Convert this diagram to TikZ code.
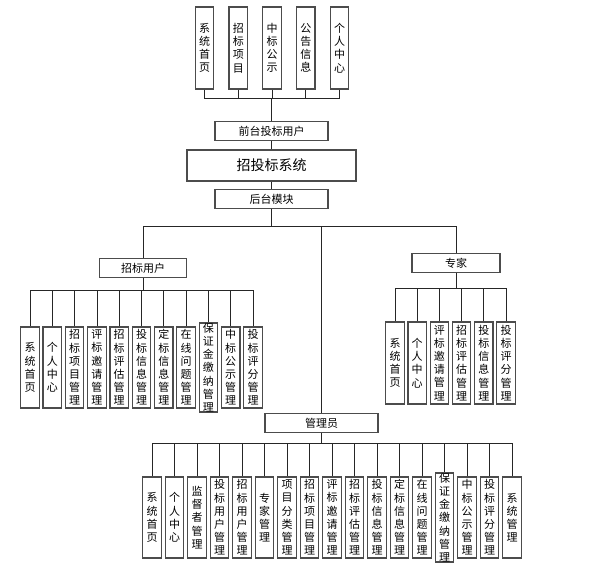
\documentclass[tikz,border=0pt]{standalone}
\usepackage{fontspec}
\newfontfamily\cjk{Noto Sans CJK SC}
\usetikzlibrary{positioning}
\tikzset{
  vbox/.style={
    draw=black!70,
    line width=1.2pt,
    fill=white,
    minimum width=18.5,
    inner sep=0pt,
    align=center,
    font=\cjk\fontsize{11}{13.2}\selectfont
  },
  hbox/.style={
    draw=black!70,
    line width=1.2pt,
    fill=white,
    minimum height=19.5,
    inner sep=0pt,
    font=\cjk\fontsize{11}{13.2}\selectfont
  },
  link/.style={draw=black!85, line width=0.8pt}
}

\begin{document}
\begin{tikzpicture}[x=1pt,y=-1pt]
  \useasboundingbox (0,0) rectangle (603,570);

  % front end pages
  \foreach \lbl [count=\i] in {{系\\统\\首\\页},{招\\标\\项\\目},{中\\标\\公\\示},{公\\告\\信\\息},{个\\人\\中\\心}}
    \node[vbox, minimum height=82] (t\i) at ({204.5+33.75*(\i-1)},48) {\lbl};
  \coordinate (tbus) at (271.5,98);
  \foreach \i in {1,...,5}
    \draw[link] (t\i.south) |- (tbus);

  % system core
  \node[hbox, minimum width=113] (front) at (271.5,131) {前台投标用户};
  \node[hbox, minimum width=169, minimum height=31,
        font=\cjk\fontsize{14}{16}\selectfont] (sys) at (271.5,165.5) {招投标系统};
  \node[hbox, minimum width=113, minimum height=19] (back) at (271.5,199) {后台模块};
  \draw[link] (tbus) -- (front.north);
  \draw[link] (front.south) -- (sys.north);
  \draw[link] (sys.south) -- (back.north);

  % roles
  \node[hbox, minimum width=87] (bidder) at (143,268) {招标用户};
  \node[hbox, minimum width=88] (expert) at (456,263) {专家};
  \node[hbox, minimum width=113] (admin) at (321.5,423) {管理员};
  \coordinate (mbus) at (271.5,226);
  \draw[link] (back.south) -- (mbus);
  \draw[link] (mbus) -| (bidder.north);
  \draw[link] (mbus) -| (expert.north);
  \draw[link] (mbus) -| (admin.north);

  % bidder modules
  \coordinate (bbus) at (143,290);
  \draw[link] (bidder.south) -- (bbus);
  \foreach \lbl [count=\i] in {{系\\统\\首\\页},{个\\人\\中\\心},{招\\标\\项\\目\\管\\理},{评\\标\\邀\\请\\管\\理},
      {招\\标\\评\\估\\管\\理},{投\\标\\信\\息\\管\\理},{定\\标\\信\\息\\管\\理},{在\\线\\问\\题\\管\\理},
      {保\\证\\金\\缴\\纳\\管\\理},{中\\标\\公\\示\\管\\理},{投\\标\\评\\分\\管\\理}}{
    \node[vbox, minimum height=81] (bc\i) at ({30+22.3*(\i-1)},367.5) {\lbl};
    \draw[link] (bbus) -| (bc\i.north);
  }

  % expert modules
  \coordinate (ebus) at (456,288);
  \draw[link] (expert.south) -- (ebus);
  \foreach \lbl [count=\i] in {{系\\统\\首\\页},{个\\人\\中\\心},{评\\标\\邀\\请\\管\\理},{招\\标\\评\\估\\管\\理},
      {投\\标\\信\\息\\管\\理},{投\\标\\评\\分\\管\\理}}{
    \node[vbox, minimum height=82] (ec\i) at ({395+22.2*(\i-1)},363) {\lbl};
    \draw[link] (ebus) -| (ec\i.north);
  }

  % admin modules
  \coordinate (abus) at (321.5,443);
  \draw[link] (admin.south) -- (abus);
  \foreach \lbl [count=\i] in {{系\\统\\首\\页},{个\\人\\中\\心},{监\\督\\者\\管\\理},{投\\标\\用\\户\\管\\理},
      {招\\标\\用\\户\\管\\理},{专\\家\\管\\理},{项\\目\\分\\类\\管\\理},{招\\标\\项\\目\\管\\理},
      {评\\标\\邀\\请\\管\\理},{招\\标\\评\\估\\管\\理},{投\\标\\信\\息\\管\\理},{定\\标\\信\\息\\管\\理},
      {在\\线\\问\\题\\管\\理},{保\\证\\金\\缴\\纳\\管\\理},{中\\标\\公\\示\\管\\理},{投\\标\\评\\分\\管\\理},
      {系\\统\\管\\理}}{
    \node[vbox, minimum height=81] (ac\i) at ({152+22.5*(\i-1)},517.5) {\lbl};
    \draw[link] (abus) -| (ac\i.north);
  }

\end{tikzpicture}
\end{document}
